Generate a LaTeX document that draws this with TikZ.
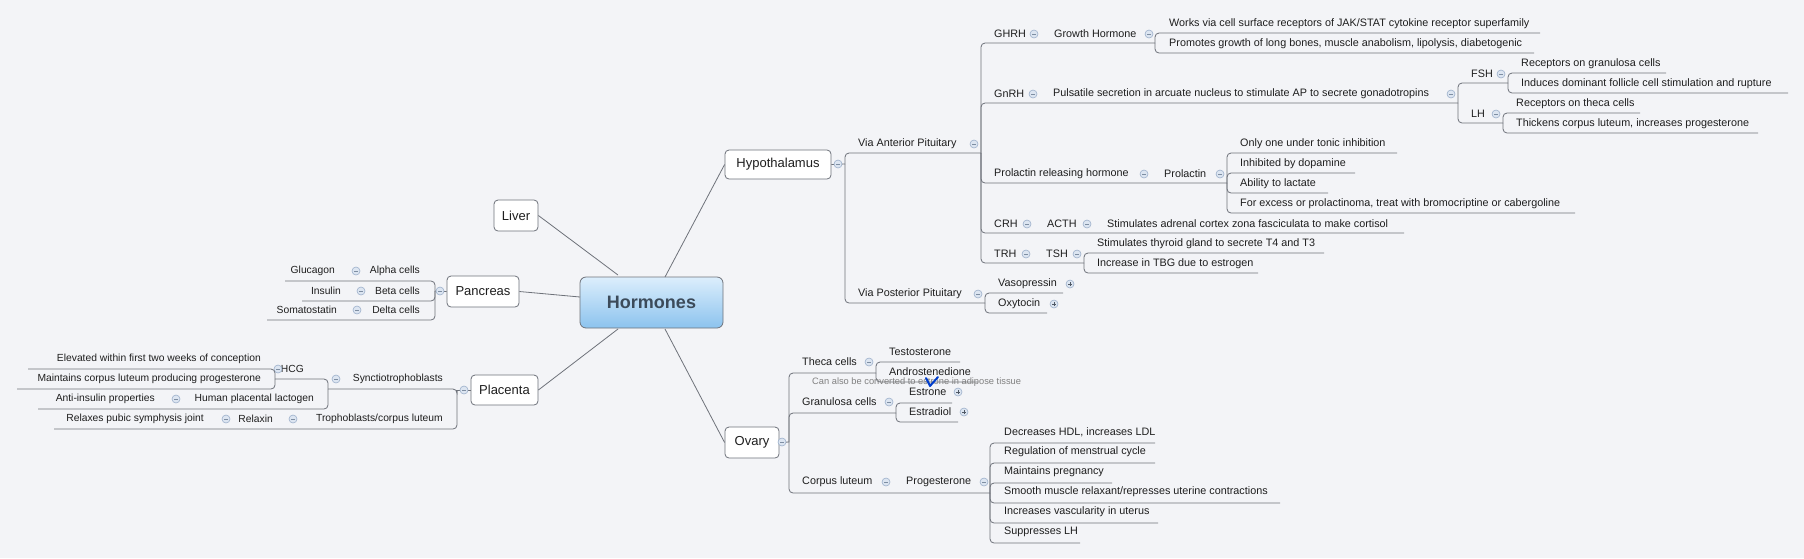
\documentclass[tikz,border=0pt]{standalone}
\usepackage{fontspec}
\setmainfont{Liberation Sans}
\begin{document}
\definecolor{bg}{HTML}{F3F4F7}
\definecolor{ln}{HTML}{6E727A}
\definecolor{tx}{HTML}{1E1E1E}
\definecolor{cf}{HTML}{DCE5F1}
\definecolor{cd}{HTML}{9DB1CB}
\definecolor{gtop}{HTML}{DCEEFC}
\definecolor{gbot}{HTML}{8CC3EE}
\definecolor{htx}{HTML}{3C4B5A}
\begin{tikzpicture}[x=1pt,y=-1pt,
  ln/.style={draw=ln,line width=0.8pt,rounded corners=4pt},
  t/.style={inner sep=0pt,anchor=west,text=tx,font=\fontsize{10.8}{12}\selectfont},
  tl/.style={t,anchor=east,font=\fontsize{10.3}{12}\selectfont},
  box/.style={draw=ln,fill=white,rounded corners=4pt,line width=0.8pt,text=tx,font=\fontsize{13}{15}\selectfont,inner sep=0pt},
  mi/.style={circle,draw=cd,fill=cf,minimum size=8pt,inner sep=0pt,line width=0.6pt,
    path picture={\draw[cd!80!black,line width=0.6pt] ([xshift=-2pt]path picture bounding box.center)--([xshift=2pt]path picture bounding box.center);}},
  pl/.style={mi,path picture={\draw[cd!50!black,line width=0.6pt] ([xshift=-2pt]path picture bounding box.center)--([xshift=2pt]path picture bounding box.center) ([yshift=-2pt]path picture bounding box.center)--([yshift=2pt]path picture bounding box.center);}}
]
\fill[bg] (0,0) rectangle (1804,558);
\useasboundingbox (0,0) rectangle (1804,558);

% ---------- root and main topics
\node[box,minimum width=143pt,minimum height=51pt,rounded corners=6pt,draw=ln,top color=gtop,bottom color=gbot,font=\fontsize{18}{20}\selectfont\bfseries,text=htx] (hor) at (651.5,302.5) {Hormones};
\node[box,minimum width=106pt,minimum height=29pt] (hyp) at (778,164.5) {Hypothalamus};
\node[box,minimum width=44pt,minimum height=31pt] (liv) at (516,215.5) {Liver};
\node[box,minimum width=72pt,minimum height=31pt] (pan) at (483,291.5) {Pancreas};
\node[box,minimum width=67pt,minimum height=30pt] (pla) at (504.5,390) {Placenta};
\node[box,minimum width=54pt,minimum height=31pt] (ova) at (752,442.5) {Ovary};
\coordinate (h1) at (665,277); \coordinate (h2) at (618,275); \coordinate (h3) at (580,297);
\coordinate (h4) at (618,329); \coordinate (h5) at (665,329);
\draw[ln] (h1) -- (hyp.west);
\draw[ln] (h2) -- (liv.east);
\draw[ln] (h3) -- (pan.east);
\draw[ln] (h4) -- (pla.east);
\draw[ln] (h5) -- (ova.west);

% ---------- Hypothalamus
\coordinate (hb) at (845,164);
\draw[ln] (hyp.east) -- (hb);
\node[mi] at (838,164) {};
\node[t] (vap) at (858,144) {Via Anterior Pituitary};  \coordinate (u-vap) at (981,153);
\node[t] (vpp) at (858,294) {Via Posterior Pituitary}; \coordinate (u-vpp) at (985,303);
\draw[ln] (hb) |- (u-vap); \draw[ln] (hb) |- (u-vpp);
\node[mi] at (974,144) {}; \node[mi] at (978,294) {};

\node[t] (ghrh) at (994,34) {GHRH}; \node[t] (gh) at (1054,34) {Growth Hormone}; \coordinate (u-gh) at (1155,43);
\node[t] (gnrh) at (994,94) {GnRH}; \node[t] (puls) at (1053,94) {Pulsatile secretion in arcuate nucleus to stimulate AP to secrete gonadotropins}; \coordinate (u-gn) at (1458,103);
\node[t] (prh) at (994,174) {Prolactin releasing hormone}; \node[t] (prl) at (1164,174) {Prolactin}; \coordinate (u-prl) at (1227,183);
\node[t] (crh) at (994,224) {CRH}; \node[t] (acth) at (1047,224) {ACTH}; \node[t] (adr) at (1107,224) {Stimulates adrenal cortex zona fasciculata to make cortisol}; \coordinate (u-crh) at (1404,233);
\node[t] (trh) at (994,254) {TRH}; \node[t] (tsh) at (1046,254) {TSH}; \coordinate (u-tsh) at (1084,263);
\foreach \c in {u-gh,u-gn,u-prl,u-crh,u-tsh} \draw[ln] (u-vap) |- (\c);
\node[mi] at (1034,34) {}; \node[mi] at (1149,34) {};
\node[mi] at (1033,94) {}; \node[mi] at (1451,94) {};
\node[mi] at (1144,174) {}; \node[mi] at (1220,174) {};
\node[mi] at (1027,224) {}; \node[mi] at (1087,224) {};
\node[mi] at (1026,254) {}; \node[mi] at (1077,254) {};

\node[t] (works) at (1169,24) {Works via cell surface receptors of JAK/STAT cytokine receptor superfamily}; \coordinate (u-works) at (1540,33);
\node[t] (prom) at (1169,44) {Promotes growth of long bones, muscle anabolism, lipolysis, diabetogenic}; \coordinate (u-prom) at (1534,53);
\draw[ln] (u-gh) |- (u-works); \draw[ln] (u-gh) |- (u-prom);

\node[t] (fsh) at (1471,74) {FSH}; \coordinate (u-fsh) at (1508,83);
\node[t] (lh) at (1471,114) {LH}; \coordinate (u-lh) at (1503,123);
\draw[ln] (u-gn) |- (u-fsh); \draw[ln] (u-gn) |- (u-lh);
\node[mi] at (1501,74) {}; \node[mi] at (1496,114) {};
\node[t] (rg) at (1521,64) {Receptors on granulosa cells}; \coordinate (u-rg) at (1666,73);
\node[t] (ind) at (1521,84) {Induces dominant follicle cell stimulation and rupture}; \coordinate (u-ind) at (1788,93);
\draw[ln] (u-fsh) |- (u-rg); \draw[ln] (u-fsh) |- (u-ind);
\node[t] (rt) at (1516,104) {Receptors on theca cells}; \coordinate (u-rt) at (1640,113);
\node[t] (thk) at (1516,124) {Thickens corpus luteum, increases progesterone}; \coordinate (u-thk) at (1758,133);
\draw[ln] (u-lh) |- (u-rt); \draw[ln] (u-lh) |- (u-thk);

\node[t] (p1) at (1240,144) {Only one under tonic inhibition}; \coordinate (u-p1) at (1397,153);
\node[t] (p2) at (1240,164) {Inhibited by dopamine}; \coordinate (u-p2) at (1355,173);
\node[t] (p3) at (1240,184) {Ability to lactate}; \coordinate (u-p3) at (1328,193);
\node[t] (p4) at (1240,204) {For excess or prolactinoma, treat with bromocriptine or cabergoline}; \coordinate (u-p4) at (1575,213);
\foreach \c in {u-p1,u-p2,u-p3,u-p4} \draw[ln] (u-prl) |- (\c);

\node[t] (thy) at (1097,244) {Stimulates thyroid gland to secrete T4 and T3}; \coordinate (u-thy) at (1324,253);
\node[t] (tbg) at (1097,264) {Increase in TBG due to estrogen}; \coordinate (u-tbg) at (1258,273);
\draw[ln] (u-tsh) |- (u-thy); \draw[ln] (u-tsh) |- (u-tbg);

\node[t] (vas) at (998,284) {Vasopressin}; \coordinate (u-vas) at (1063,293);
\node[t] (oxy) at (998,304) {Oxytocin}; \coordinate (u-oxy) at (1047,313);
\draw[ln] (u-vpp) |- (u-vas); \draw[ln] (u-vpp) |- (u-oxy);
\node[pl] at (1070,284) {}; \node[pl] at (1054,304) {};

% ---------- Ovary
\coordinate (ob) at (789,442);
\draw[ln] (ova.east) -- (ob);
\node[mi] at (782,442) {};
\node[t] (the) at (802,362) {Theca cells}; \coordinate (u-the) at (876,373);
\node[t] (gra) at (802,402) {Granulosa cells}; \coordinate (u-gra) at (896,413);
\node[t] (cl) at (802,482) {Corpus luteum}; \node[t] (prog) at (906,482) {Progesterone}; \coordinate (u-cl) at (990,493);
\foreach \c in {u-the,u-gra,u-cl} \draw[ln] (ob) |- (\c);
\node[mi] at (869,362) {}; \node[mi] at (889,402) {}; \node[mi] at (886,482) {}; \node[mi] at (984,482) {};
\node[t] (tes) at (889,352) {Testosterone}; \coordinate (u-tes) at (960,362);
\node[t] (and) at (889,372) {Androstenedione}; \coordinate (u-and) at (978,382);
\draw[ln] (u-the) |- (u-tes); \draw[ln] (u-the) |- (u-and);
\node[t,text=gray,font=\fontsize{9.3}{11}\selectfont] (note) at (812,382) {Can also be converted to estrone in adipose tissue};
\node[t] (est) at (909,392) {Estrone}; \coordinate (u-est) at (952,403);
\node[t] (esd) at (909,412) {Estradiol}; \coordinate (u-esd) at (958,422);
\draw[ln] (u-gra) |- (u-est); \draw[ln] (u-gra) |- (u-esd);
\node[pl] at (958,392) {}; \node[pl] at (964,412) {};
\draw[blue!70!cyan!80!black,line width=2pt,line cap=round,line join=round] (926,378) -- (930,386) -- (938,377);
\node[t] (o1) at (1004,432) {Decreases HDL, increases LDL}; \coordinate (u-o1) at (1155,443);
\node[t] (o2) at (1004,452) {Regulation of menstrual cycle}; \coordinate (u-o2) at (1155,463);
\node[t] (o3) at (1004,472) {Maintains pregnancy}; \coordinate (u-o3) at (1112,483);
\node[t] (o4) at (1004,492) {Smooth muscle relaxant/represses uterine contractions}; \coordinate (u-o4) at (1280,503);
\node[t] (o5) at (1004,512) {Increases vascularity in uterus}; \coordinate (u-o5) at (1158,523);
\node[t] (o6) at (1004,532) {Suppresses LH}; \coordinate (u-o6) at (1080,543);
\foreach \c in {u-o1,u-o2,u-o3,u-o4,u-o5,u-o6} \draw[ln] (u-cl) |- (\c);

% ---------- Pancreas
\coordinate (pb) at (435,291);
\draw[ln] (pan.west) -- (pb);
\node[mi] at (440,291) {};
\node[tl] (alp) at (420,271) {Alpha cells}; \node[tl] (glu) at (335,271) {Glucagon}; \coordinate (u-alp) at (285,281);
\node[tl] (bet) at (420,291) {Beta cells}; \node[tl] (ins) at (341,291) {Insulin}; \coordinate (u-bet) at (302,301);
\node[tl] (del) at (420,310) {Delta cells}; \node[tl] (som) at (337,310) {Somatostatin}; \coordinate (u-del) at (267,320);
\foreach \c in {u-alp,u-bet,u-del} \draw[ln] (pb) |- (\c);
\node[mi] at (356,271) {}; \node[mi] at (361,291) {}; \node[mi] at (357,310) {};

% ---------- Placenta
\coordinate (plb) at (457,390);
\draw[ln] (pla.west) -- (plb);
\node[mi] at (464,390) {};
\node[tl] (syn) at (443,379) {Synctiotrophoblasts}; \coordinate (u-syn) at (328,389);
\node[tl] (tro) at (443,419) {Trophoblasts/corpus luteum}; \node[tl] (rlx) at (273,419) {Relaxin}; \node[tl] (rel) at (204,419) {Relaxes pubic symphysis joint}; \coordinate (u-tro) at (54,429);
\draw[ln] (plb) |- (u-syn); \draw[ln] (plb) |- (u-tro);
\node[mi] at (336,379) {}; \node[mi] at (293,419) {}; \node[mi] at (226,419) {};
\node[tl] (hcg) at (304,369) {HCG}; \coordinate (u-hcg) at (275,379);
\node[tl] (hpl) at (314,399) {Human placental lactogen}; \node[tl] (ai) at (155,399) {Anti-insulin properties}; \coordinate (u-hpl) at (38,409);
\draw[ln] (u-syn) |- (u-hcg); \draw[ln] (u-syn) |- (u-hpl);
\node[mi] at (278,369) {}; \node[mi] at (176,399) {};
\node[tl] (ele) at (261,359) {Elevated within first two weeks of conception}; \coordinate (u-ele) at (28,369);
\node[tl] (mcl) at (261,379) {Maintains corpus luteum producing progesterone}; \coordinate (u-mcl) at (17,389);
\draw[ln] (u-hcg) |- (u-ele); \draw[ln] (u-hcg) |- (u-mcl);
\end{tikzpicture}
\end{document}
